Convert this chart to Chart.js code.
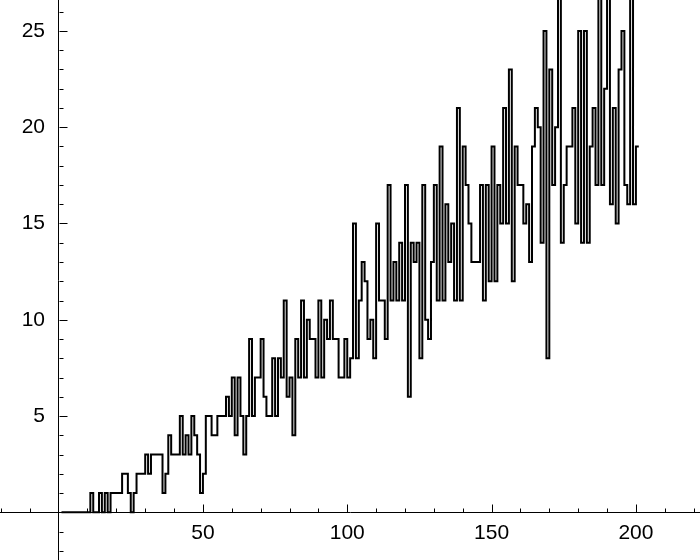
<!DOCTYPE html>
<html>
<head>
<meta charset="utf-8">
<script src="https://cdn.jsdelivr.net/npm/chart.js@4/dist/chart.umd.min.js"></script>
<style>
  html, body { margin: 0; padding: 0; background: #fff; }
  #wrap { width: 700px; height: 560px; }
</style>
</head>
<body>
<div id="wrap"><canvas id="chart" width="700" height="560"></canvas></div>
<script>
// one count per step, first step starts at x = 1
const counts = [
  0, 0, 0, 0, 0, 0, 0, 0, 0, 0,
  1, 0, 0, 1, 0, 1, 0, 1, 1, 1,
  1, 2, 2, 1, 0, 1, 2, 2, 2, 3,
  2, 3, 3, 3, 3, 1, 2, 4, 3, 3,
  3, 5, 3, 4, 3, 5, 4, 3, 1, 2,
  5, 5, 4, 4, 5, 5, 5, 6, 5, 7,
  4, 7, 5, 3, 5, 9, 5, 7, 7, 9,
  6, 5, 5, 8, 5, 8, 7, 11, 6, 7,
  4, 9, 7, 11, 7, 10, 9, 9, 7, 11,
  7, 10, 9, 11, 9, 9, 7, 7, 9, 7,
  8, 15, 8, 11, 13, 12, 9, 10, 8, 15,
  11, 11, 9, 17, 11, 13, 11, 14, 11, 17,
  6, 14, 13, 14, 8, 17, 10, 9, 13, 17,
  11, 19, 11, 16, 13, 15, 11, 21, 11, 19,
  17, 15, 13, 13, 13, 17, 11, 17, 12, 19,
  12, 17, 15, 21, 15, 23, 12, 19, 17, 17,
  15, 16, 13, 19, 21, 20, 14, 25, 8, 23,
  17, 20, 27, 14, 17, 19, 19, 21, 15, 25,
  14, 25, 14, 19, 21, 17, 27, 17, 22, 27,
  16, 21, 15, 23, 25, 17, 16, 27, 16, 19
];
const firstX = 1;

const xRange = [-20.3, 222.2];
const yRange = [-2.48, 26.61];

const xMajorTicks = [50, 100, 150, 200];
const xMinorTicks = [-20, -10, 10, 20, 30, 40, 60, 70, 80, 90, 110, 120, 130, 140, 160, 170, 180, 190, 210, 220];
const yMajorTicks = [5, 10, 15, 20, 25];
const yMinorTicks = [-2, -1, 1, 2, 3, 4, 6, 7, 8, 9, 11, 12, 13, 14, 16, 17, 18, 19, 21, 22, 23, 24, 26];

const labelFont = { family: "'Liberation Sans', Arial, sans-serif", size: 21 };

const points = counts.map((v, i) => ({ x: firstX + i, y: v }));
points.push({ x: firstX + counts.length, y: counts[counts.length - 1] });

// tick marks point into the plot, like the original axes
const axisTicks = {
  id: 'axisTicks',
  beforeDatasetsDraw(chart) {
    const { ctx, scales: { x, y } } = chart;
    const ax = Math.round(x.getPixelForValue(0)) + 0.5;
    const ay = Math.round(y.getPixelForValue(0)) + 0.5;
    ctx.save();
    ctx.strokeStyle = '#000';
    ctx.lineWidth = 1;
    ctx.beginPath();
    const xMark = (v, len) => {
      const px = Math.round(x.getPixelForValue(v)) + 0.5;
      ctx.moveTo(px, ay); ctx.lineTo(px, ay - len);
    };
    const yMark = (v, len) => {
      const py = Math.round(y.getPixelForValue(v)) + 0.5;
      ctx.moveTo(ax, py); ctx.lineTo(ax + len, py);
    };
    xMajorTicks.forEach(v => xMark(v, 8));
    xMinorTicks.forEach(v => xMark(v, 4));
    yMajorTicks.forEach(v => yMark(v, 8));
    yMinorTicks.forEach(v => yMark(v, 4));
    ctx.stroke();
    ctx.restore();
  }
};

const noPad = s => { s.paddingTop = 0; s.paddingBottom = 0; s.paddingLeft = 0; s.paddingRight = 0; };

new Chart(document.getElementById('chart'), {
  type: 'line',
  data: {
    datasets: [{
      data: points,
      stepped: true,
      borderColor: '#000',
      borderWidth: 2,
      pointRadius: 0,
      fill: false
    }]
  },
  options: {
    responsive: false,
    animation: false,
    devicePixelRatio: 1,
    layout: { padding: 0 },
    plugins: { legend: { display: false }, tooltip: { enabled: false } },
    scales: {
      x: {
        type: 'linear',
        min: xRange[0], max: xRange[1],
        position: { y: 0 },
        grid: { display: false, drawTicks: false },
        border: { display: true, color: '#000', width: 1 },
        afterBuildTicks: s => { s.ticks = xMajorTicks.map(v => ({ value: v })); },
        afterFit: noPad,
        ticks: { color: '#000', font: labelFont, padding: 8, maxRotation: 0, autoSkip: false }
      },
      y: {
        type: 'linear',
        min: yRange[0], max: yRange[1],
        position: { x: 0 },
        grid: { display: false, drawTicks: false },
        border: { display: true, color: '#000', width: 1 },
        ticks: { display: false },
        afterFit: noPad
      },
      yLabels: {
        type: 'linear',
        axis: 'y',
        min: yRange[0], max: yRange[1],
        position: { x: -4.7 },
        grid: { display: false, drawTicks: false },
        border: { display: false },
        afterBuildTicks: s => { s.ticks = yMajorTicks.map(v => ({ value: v })); },
        afterFit: noPad,
        ticks: { color: '#000', font: labelFont, padding: 0, autoSkip: false }
      }
    }
  },
  plugins: [axisTicks]
});
</script>
</body>
</html>
